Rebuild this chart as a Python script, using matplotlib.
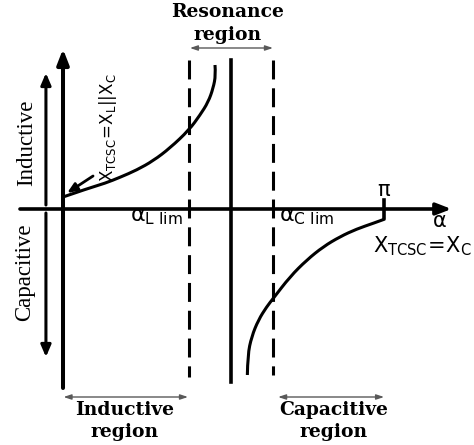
"""
TCSC reactance vs firing angle alpha (schematic)
"""

import numpy as np
import matplotlib.pyplot as plt
from matplotlib.path import Path
from matplotlib.patches import PathPatch

# x = firing angle alpha in degrees, y = TCSC reactance (arbitrary units)
alpha_L_lim = 70.9
alpha_res = 94.5
alpha_C_lim = 118.1
alpha_pi = 180.0

# inductive branch (X_TCSC = X_L || X_C up to resonance)
ind_alpha = [0.0, 14.2, 23.6, 32.1, 41.5, 50.8, 60.2, 70.9, 77.1, 81.7, 84.5, 85.9, 85.5]
ind_x = [12.0, 20.7, 25.7, 31.7, 39.0, 48.3, 61.0, 79.0, 94.0, 107.0, 121.0, 134.0, 144.0]

# capacitive branch (from resonance to X_TCSC = X_C at pi)
cap_alpha = [103.7, 103.9, 106.1, 109.9, 114.6, 118.3, 127.7, 137.1, 146.4, 155.8, 165.2, 174.5, 181.1]
cap_x = [-166.0, -146.0, -127.7, -111.0, -97.7, -89.3, -67.7, -51.0, -37.7, -27.7, -20.0, -14.3, -10.0]

# vertical extents of the guide lines
v_top = 149
v_bot = [-168, -173, -166]   # alpha_L_lim, resonance, alpha_C_lim


def smooth_path(xs, ys):
    # quadratic bezier through the read points (points used as control points)
    p = np.column_stack([xs, ys])
    verts = [p[0]]
    codes = [Path.MOVETO]
    n = len(p)
    for i in range(1, n - 2):
        verts += [p[i], (p[i] + p[i + 1]) / 2]
        codes += [Path.CURVE3, Path.CURVE3]
    verts += [p[n - 2], p[n - 1]]
    codes += [Path.CURVE3, Path.CURVE3]
    return Path(verts, codes)


fig = plt.figure(figsize=(4.74, 4.45), dpi=100)
ax = fig.add_axes([0, 0, 1, 1])
ax.set_xlim(-35.44, 231.19)
ax.set_ylim(-236, 209)
ax.axis('off')

serif = 'DejaVu Serif'

# axes with arrow heads
ax.annotate('', xy=(218.5, 0), xytext=(-24.2, 0),
            arrowprops=dict(arrowstyle='-|>,head_length=0.9,head_width=0.35',
                            lw=2.6, color='k', shrinkA=0, shrinkB=0))
ax.annotate('', xy=(0, 160), xytext=(0, -179),
            arrowprops=dict(arrowstyle='-|>,head_length=0.9,head_width=0.35',
                            lw=2.9, color='k', shrinkA=0, shrinkB=0))

# inductive / capacitive side arrows
ax.annotate('', xy=(-9.6, 136), xytext=(-9.6, 4),
            arrowprops=dict(arrowstyle='-|>,head_length=0.7,head_width=0.3',
                            lw=2.2, color='k', shrinkA=0, shrinkB=0))
ax.annotate('', xy=(-9.6, -148), xytext=(-9.6, -4),
            arrowprops=dict(arrowstyle='-|>,head_length=0.7,head_width=0.3',
                            lw=2.2, color='k', shrinkA=0, shrinkB=0))
ax.text(-20.3, 66, 'Inductive', rotation=90, ha='center', va='center',
        fontsize=16.5, family='Liberation Serif')
ax.text(-21.4, -63, 'Capacitive', rotation=90, ha='center', va='center',
        fontsize=16.5, family='Liberation Serif')

# guide lines
dash = (0, (6.2, 2.9))
ax.plot([alpha_L_lim, alpha_L_lim], [v_top, v_bot[0]], color='k', lw=2.2, linestyle=dash)
ax.plot([alpha_res, alpha_res], [v_top, v_bot[1]], color='k', lw=2.6)
ax.plot([alpha_C_lim, alpha_C_lim], [v_top, v_bot[2]], color='k', lw=2.2, linestyle=dash)
ax.plot([alpha_pi + 0.6, alpha_pi + 0.6], [-9, 9], color='k', lw=2.6)

# curves
ax.add_patch(PathPatch(smooth_path(ind_alpha, ind_x), fill=False, lw=2.2,
                       edgecolor='k', capstyle='butt'))
ax.add_patch(PathPatch(smooth_path(cap_alpha, cap_x), fill=False, lw=2.2,
                       edgecolor='k', capstyle='butt'))

# axis labels
ax.text(alpha_pi + 0.6, 9, r'$\mathregular{\pi}$', ha='center', va='bottom', fontsize=15)
ax.text(211.5, -2, r'$\mathregular{\alpha}$', ha='center', va='top', fontsize=15)
ax.text(67.5, -8, r'$\mathregular{\alpha_{L\ lim}}$', ha='right', va='center', fontsize=16)
ax.text(121.5, -8, r'$\mathregular{\alpha_{C\ lim}}$', ha='left', va='center', fontsize=16)
ax.text(202, -37, r'$\mathregular{X_{TCSC}\!=\!X_C}$', ha='center', va='center', fontsize=15)
ax.text(25.3, 81, r'$\mathregular{X_{TCSC}\!=\!X_L||X_C}$', rotation=90,
        ha='center', va='center', fontsize=12)
ax.annotate('', xy=(2.3, 16), xytext=(16.9, 33),
            arrowprops=dict(arrowstyle='-|>,head_length=0.6,head_width=0.25',
                            lw=2.0, color='k', shrinkA=0, shrinkB=0))

# region markers
reg_kw = dict(arrowstyle='<|-|>,head_length=0.45,head_width=0.15',
              lw=1.0, color='0.35', shrinkA=0, shrinkB=0)
ax.annotate('', xy=(alpha_L_lim + 0.5, 161), xytext=(alpha_C_lim, 161), arrowprops=reg_kw)
ax.annotate('', xy=(0.3, -188), xytext=(70.3, -188), arrowprops=reg_kw)
ax.annotate('', xy=(121.0, -188), xytext=(180.6, -188), arrowprops=reg_kw)

ax.text(92.8, 197, 'Resonance', ha='center', va='center', fontsize=13.5,
        weight='bold', family=serif)
ax.text(92.8, 174, 'region', ha='center', va='center', fontsize=13.5,
        weight='bold', family=serif)
ax.text(34.9, -201, 'Inductive', ha='center', va='center', fontsize=13.5,
        weight='bold', family=serif)
ax.text(34.9, -223, 'region', ha='center', va='center', fontsize=13.5,
        weight='bold', family=serif)
ax.text(152.4, -201, 'Capacitive', ha='center', va='center', fontsize=13.5,
        weight='bold', family=serif)
ax.text(152.4, -223, 'region', ha='center', va='center', fontsize=13.5,
        weight='bold', family=serif)

fig.savefig('out.png', dpi=100, facecolor='white')
